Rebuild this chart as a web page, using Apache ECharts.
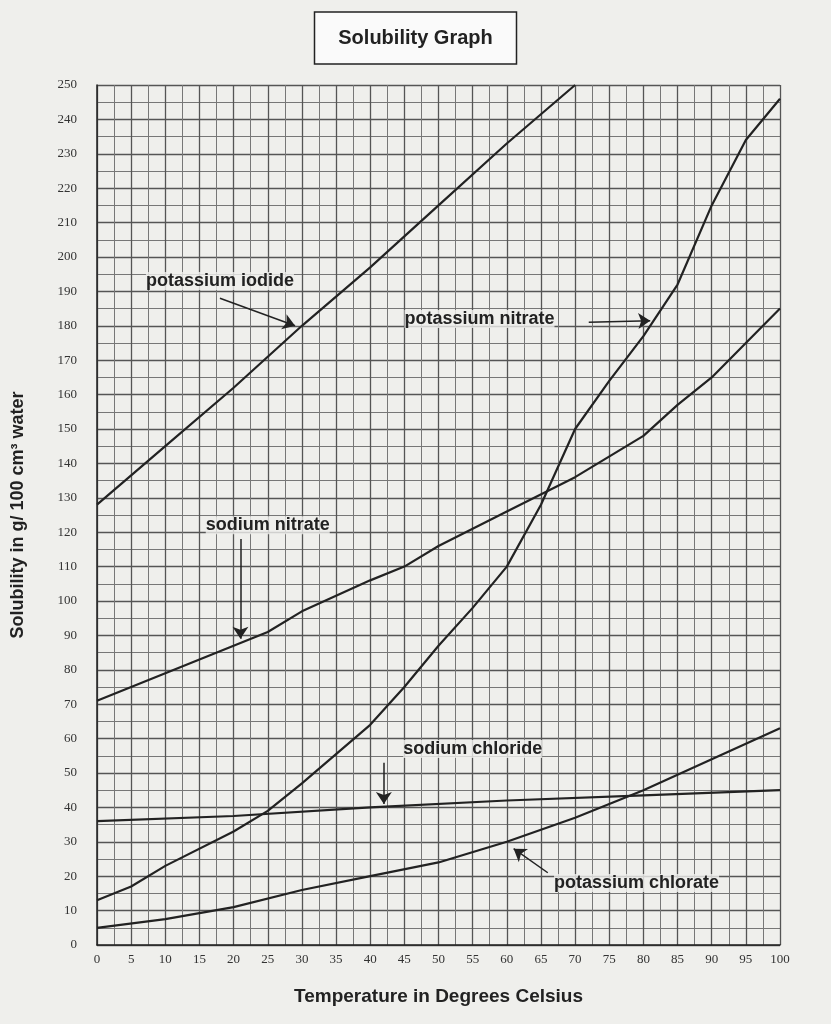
<!DOCTYPE html><html><head><meta charset="utf-8"><script src="https://cdn.jsdelivr.net/npm/echarts@6/dist/echarts.min.js"></script>
<style>html,body{margin:0;background:#efefec}#c{width:831px;height:1024px}</style></head><body><div id="c"></div><script>
const temps=[0,5,10,15,20,25,30,35,40,45,50,55,60,65,70,75,80,85,90,95,100];
const xTicks=temps;
const potassiumIodide=[[0,128],[10,145],[20,162],[30,180],[40,197],[50,215],[60,233],[70,250]];
const potassiumNitrate=[[0,13],[5,17],[10,23],[20,33],[25,39],[30,47],[40,64],[45,75],[50,87],[55,98],[60,110],[65,128],[70,150],[75,164],[80,177],[85,192],[90,215],[95,234],[100,246]];
const sodiumNitrate=[[0,71],[10,79],[20,87],[25,91],[30,97],[40,106],[45,110],[50,116],[60,126],[70,136],[80,148],[85,157],[90,165],[100,185]];
const sodiumChloride=[[0,36],[20,37.5],[40,40],[60,42],[80,43.5],[100,45]];
const potassiumChlorate=[[0,5],[10,7.5],[20,11],[30,16],[40,20],[50,24],[60,30],[70,37],[80,45],[90,54],[100,63]];
const labels=[["potassium iodide",18,193],["potassium nitrate",56,182],["sodium nitrate",25,122],["sodium chloride",55,57],["potassium chlorate",79,18]];
const arrows=[[[18,188],[29,180]],[[72,181],[81,181.5]],[[21,118],[21,89]],[[42,53],[42,41]],[[66,21],[61,28]]];
const line=(d)=>({type:'line',data:d,symbol:'none',lineStyle:{color:'#222',width:2.2},silent:true});
const chart=echarts.init(document.getElementById('c'));
const series=[potassiumIodide,potassiumNitrate,sodiumNitrate,sodiumChloride,potassiumChlorate].map(line);
series.push({type:'line',data:[],markLine:{silent:true,symbol:['none','arrow'],symbolSize:12,lineStyle:{color:'#222',width:1.5,type:'solid'},label:{show:false},data:arrows.map(a=>[{coord:a[0]},{coord:a[1]}])}});
chart.setOption({backgroundColor:'#efefec',animation:false,
grid:{left:97,right:51,top:85,bottom:79},
title:{text:'Solubility Graph',left:'center',top:12,padding:[16,24],borderColor:'#222',borderWidth:1.5,backgroundColor:'#fafafa',textStyle:{fontFamily:'Liberation Sans',fontWeight:'bold',fontSize:20,color:'#222'}},
xAxis:{type:'value',min:0,max:100,interval:5,name:'Temperature in Degrees Celsius',nameLocation:'middle',nameGap:42,nameTextStyle:{fontFamily:'Liberation Sans',fontWeight:'bold',fontSize:19,color:'#222'},
axisLabel:{fontFamily:'Liberation Serif',fontSize:13,color:'#333'},axisLine:{lineStyle:{color:'#222',width:1.5}},axisTick:{show:false},
splitLine:{lineStyle:{color:'#555',width:1.3}},minorTick:{show:false,splitNumber:2},minorSplitLine:{show:true,lineStyle:{color:'#777',width:1}}},
yAxis:{type:'value',min:0,max:250,interval:10,name:'Solubility in g/ 100 cm³ water',nameLocation:'middle',nameGap:70,nameTextStyle:{fontFamily:'Liberation Sans',fontWeight:'bold',fontSize:18,color:'#222'},
axisLabel:{fontFamily:'Liberation Serif',fontSize:13,color:'#333',margin:20},axisLine:{lineStyle:{color:'#222',width:1.5}},axisTick:{show:false},
splitLine:{lineStyle:{color:'#555',width:1.3}},minorSplitLine:{show:true,lineStyle:{color:'#777',width:1}},minorTick:{splitNumber:2}},
series});
const g=labels.map(l=>{const p=chart.convertToPixel({gridIndex:0},[l[1],l[2]]);return{type:'text',x:p[0],y:p[1],style:{text:l[0],fill:'#222',font:'bold 18px "Liberation Sans"',align:'center',verticalAlign:'middle',backgroundColor:'rgba(239,239,236,0.8)'}};});
chart.setOption({graphic:g});
</script></body></html>
